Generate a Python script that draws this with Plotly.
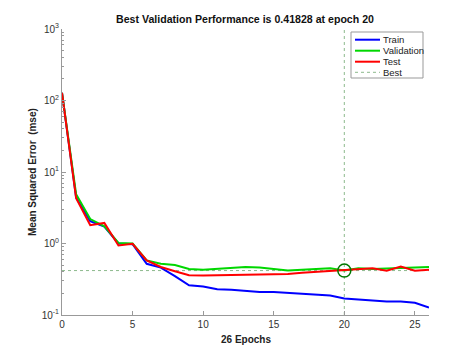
import plotly.graph_objects as go

epochs = list(range(27))
train = [128, 4.4, 2.05, 1.72, 1.0, 0.98, 0.52, 0.46, 0.35, 0.26, 0.25, 0.23, 0.225, 0.215,
         0.21, 0.21, 0.203, 0.197, 0.193, 0.187, 0.17, 0.165, 0.16, 0.155, 0.155, 0.148, 0.127]
validation = [128, 4.9, 2.2, 1.74, 1.02, 1.0, 0.58, 0.52, 0.50, 0.44, 0.43, 0.445, 0.46, 0.47,
              0.46, 0.44, 0.42, 0.43, 0.44, 0.45, 0.41828, 0.45, 0.44, 0.45, 0.46, 0.47, 0.47]
test = [128, 4.3, 1.8, 1.94, 0.94, 0.99, 0.58, 0.47, 0.41, 0.36, 0.356, 0.36, 0.365, 0.37,
        0.375, 0.375, 0.375, 0.39, 0.40, 0.41, 0.418, 0.43, 0.45, 0.415, 0.475, 0.415, 0.43]
best_epoch = 20
best_perf = 0.41828
x_range = [0, 26]
y_range_exp = [-1, 3]
x_ticks = [0, 5, 10, 15, 20, 25]
y_ticks = [0.1, 1, 10, 100, 1000]
y_ticktext = ["10<sup>-1</sup>", "10<sup>0</sup>", "10<sup>1</sup>", "10<sup>2</sup>", "10<sup>3</sup>"]
legend_names = ["Train", "Validation", "Test", "Best"]

FONT = "Liberation Sans, Arial, Helvetica, sans-serif"
OFF = 8  # page body margin in the browser
WIN_W, WIN_H = 474, 355
# plot area in window pixels
PL, PR, PT, PB = 62, 429, 29, 315
W, H = WIN_W - 2 * OFF, WIN_H - 2 * OFF
ML, MT = PL - OFF, PT - OFF
MR, MB = W + OFF - PR, H + OFF - PB
PW, PH = PR - PL, PB - PT


def px_x(px):
    return (px - PL) / PW


def px_y(py):
    return (PB - py) / PH


colors = ["rgb(0,0,255)", "rgb(0,215,0)", "rgb(255,0,0)", "rgb(140,185,140)"]

fig = go.Figure()
fig.add_trace(go.Scatter(
    x=[best_epoch, best_epoch, None, x_range[0], x_range[1]],
    y=[10 ** y_range_exp[0], 10 ** y_range_exp[1], None, best_perf, best_perf],
    mode="lines", name="Best", showlegend=False,
    line=dict(color=colors[3], width=1, dash="dot")))
for name, ys, c in zip(legend_names[:3], [train, validation, test], colors[:3]):
    fig.add_trace(go.Scatter(x=epochs, y=ys, mode="lines", name=name, showlegend=False,
                             line=dict(color=c, width=2)))
fig.add_trace(go.Scatter(x=[best_epoch], y=[best_perf], mode="markers", showlegend=False,
                         marker=dict(symbol="circle-open", size=13,
                                     color="rgb(0,120,0)", line=dict(width=1.5, color="rgb(0,120,0)"))))

minor_vals = [m * 10 ** e for e in range(y_range_exp[0], y_range_exp[1]) for m in range(2, 10)]

axis_common = dict(showline=True, linecolor="#999", linewidth=1, ticks="inside",
                   tickcolor="#999", ticklen=4, showgrid=False, zeroline=False,
                   mirror=False, automargin=False,
                   tickfont=dict(size=10, color="#333", family=FONT))

fig.update_xaxes(range=x_range, tickvals=x_ticks, **axis_common)
fig.update_yaxes(type="log", range=y_range_exp, tickvals=y_ticks, ticktext=y_ticktext,
                 minor=dict(ticks="inside", ticklen=2, tickcolor="#999", showgrid=False,
                            tickmode="array", tickvals=minor_vals),
                 **axis_common)

# custom compact legend (MATLAB style)
shapes = [dict(type="rect", xref="paper", yref="paper",
               x0=px_x(351), x1=px_x(423), y0=px_y(78), y1=px_y(32),
               line=dict(color="#999", width=1), fillcolor="white", layer="above")]
annotations = []
row_y = [39.7, 50.7, 61.7, 72.3]
for name, c, ry in zip(legend_names, colors, row_y):
    is_best = name == "Best"
    shapes.append(dict(type="line", xref="paper", yref="paper",
                       x0=px_x(355), x1=px_x(380), y0=px_y(ry), y1=px_y(ry),
                       line=dict(color=c, width=1 if is_best else 2,
                                 dash="dot" if is_best else "solid"),
                       layer="above"))
    annotations.append(dict(text=name, xref="paper", yref="paper", x=px_x(381), y=px_y(ry),
                            xanchor="left", yanchor="middle", showarrow=False,
                            font=dict(size=9.5, color="#222", family=FONT)))

annotations += [
    dict(text="<b>26 Epochs</b>", xref="paper", yref="paper", x=0.5, y=px_y(339),
         showarrow=False, xanchor="center", yanchor="middle",
         font=dict(size=10, color="#222", family=FONT)),
    dict(text="<b>Mean Squared Error  (mse)</b>", xref="paper", yref="paper",
         x=px_x(32), y=0.5, textangle=-90, showarrow=False,
         xanchor="center", yanchor="middle",
         font=dict(size=10, color="#222", family=FONT)),
]

fig.update_layout(
    width=W, height=H,
    margin=dict(l=ML, r=MR, t=MT, b=MB),
    paper_bgcolor="white", plot_bgcolor="white",
    font=dict(family=FONT, color="#222"),
    showlegend=False,
    title=dict(text="<b>Best Validation Performance is 0.41828 at epoch 20</b>",
               x=(245 - OFF) / W, xanchor="center", y=1 - (19 - OFF) / H, yanchor="middle",
               font=dict(size=10.6, color="#111", family=FONT)),
    shapes=shapes,
    annotations=annotations,
)

fig.write_html("out.html")
